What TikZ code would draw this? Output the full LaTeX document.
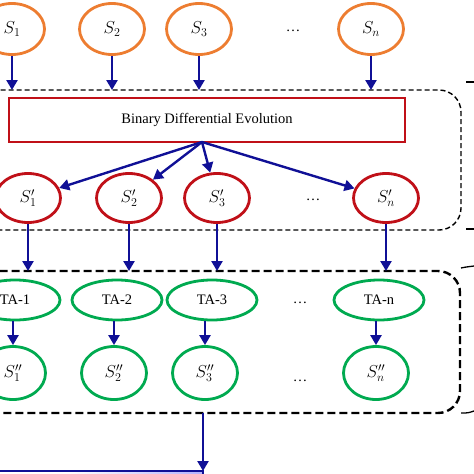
\documentclass[tikz,border=0pt]{standalone}
\usepackage{fontspec}
\setmainfont{Liberation Serif}
\usetikzlibrary{shapes.geometric,arrows.meta}

\definecolor{solorange}{RGB}{237,125,49}
\definecolor{solred}{RGB}{192,16,24}
\definecolor{solgreen}{RGB}{0,170,80}
\definecolor{arrowblue}{RGB}{16,16,150}

\begin{document}
\begin{tikzpicture}[x=1pt, y=-1pt,
    every node/.style={font=\fontsize{14.5}{17}\selectfont},
    sol/.style={ellipse, draw, line width=2.8pt, inner sep=0pt,
                minimum width=65pt, minimum height=51pt,
                font=\fontsize{17}{20}\selectfont},
    initsol/.style={sol, draw=solorange},
    desol/.style={sol, draw=solred, minimum height=49pt},
    tasol/.style={sol, draw=solgreen, minimum width=90pt, minimum height=40pt,
                  font=\fontsize{14.5}{17}\selectfont},
    finsol/.style={sol, draw=solgreen, minimum height=53pt},
    arr/.style={draw=arrowblue, line width=2.4pt,
                -{Triangle[length=10pt, width=11pt]}},
    stagebox/.style={draw=black, line width=1.4pt, dash pattern=on 5pt off 3pt,
                     rounded corners=22pt},
    brace/.style={draw=black, line width=1.3pt}]

  % Crop to the visible part of the figure
  \useasboundingbox (0,0) rectangle (474,474);
  \clip (0,0) rectangle (474,474);

  % Dashed stage boxes
  \draw[stagebox] (-30,90) rectangle (461,230);
  \draw[stagebox, line width=2.4pt, dash pattern=on 8pt off 4pt] (-30,271) rectangle (460,413);
  \coordinate (top1) at (0,90);
  \coordinate (top2) at (0,271);

  % Initial solutions
  \node[initsol] (s1) at (12,29)  {$S_1$};
  \node[initsol] (s2) at (112,29) {$S_2$};
  \node[initsol] (s3) at (199,29) {$S_3$};
  \node[initsol] (sn) at (371,29) {$S_n$};
  \node (sdots) at (293,31) {\dots};

  % Binary differential evolution
  \node[draw=solred, line width=2.8pt, minimum width=396pt, minimum height=44pt,
        inner sep=0pt] (bde) at (207,120) {Binary Differential Evolution};
  \coordinate (fan) at (202,142);

  % Solutions after BDE
  \node[desol] (sp1) at (28,198)  {$S'_1$};
  \node[desol] (sp2) at (129,198) {$S'_2$};
  \node[desol] (sp3) at (217,198) {$S'_3$};
  \node[desol] (spn) at (386,198) {$S'_n$};
  \node (spdots) at (313,200) {\dots};

  % Threshold accepting
  \node[tasol] (ta1) at (15,300)  {TA-1};
  \node[tasol] (ta2) at (117,300) {TA-2};
  \node[tasol] (ta3) at (212,300) {TA-3};
  \node[tasol] (tan) at (379,300) {TA-n};
  \node (tadots) at (300,303) {\dots};

  % Final solutions
  \node[finsol] (spp1) at (13,373)  {$S''_1$};
  \node[finsol] (spp2) at (114,373) {$S''_2$};
  \node[finsol] (spp3) at (205,373) {$S''_3$};
  \node[finsol] (sppn) at (376,373) {$S''_n$};
  \node (sppdots) at (300,381) {\dots};

  % Arrows into the BDE stage
  \foreach \s in {s1,s2,s3,sn}
    \draw[arr] (\s.south) -- (\s.south |- top1);

  % Fan out of the BDE box
  \foreach \s in {sp1,sp2,sp3,spn}
    \draw[arr] (fan) -- (\s);

  % Arrows into the TA stage
  \foreach \s in {sp1,sp2,sp3,spn}
    \draw[arr] (\s.south) -- (\s.south |- top2);

  % TA to final solutions
  \foreach \t/\s in {ta1/spp1,ta2/spp2,ta3/spp3,tan/sppn}
    \draw[arr] (\s.north |- \t.south) -- (\s.north);

  % Output to the next block
  \shade[left color=white, right color=blue!30] (70,471) rectangle (203,490);
  \draw[draw=arrowblue, line width=2pt] (-10,471) -- (203,471) -- (203,490);
  \coordinate (out) at (203,413);
  \draw[arr] (out) -- (203,471);

  % Ends of the braces on the right
  \draw[brace] (466,82) -- (474,82);
  \draw[brace] (466,229) -- (474,229);
  \draw[brace] (461,268) .. controls (466,267) .. (474,266);
  \draw[brace] (461,413) .. controls (468,413) .. (474,411);

\end{tikzpicture}
\end{document}
